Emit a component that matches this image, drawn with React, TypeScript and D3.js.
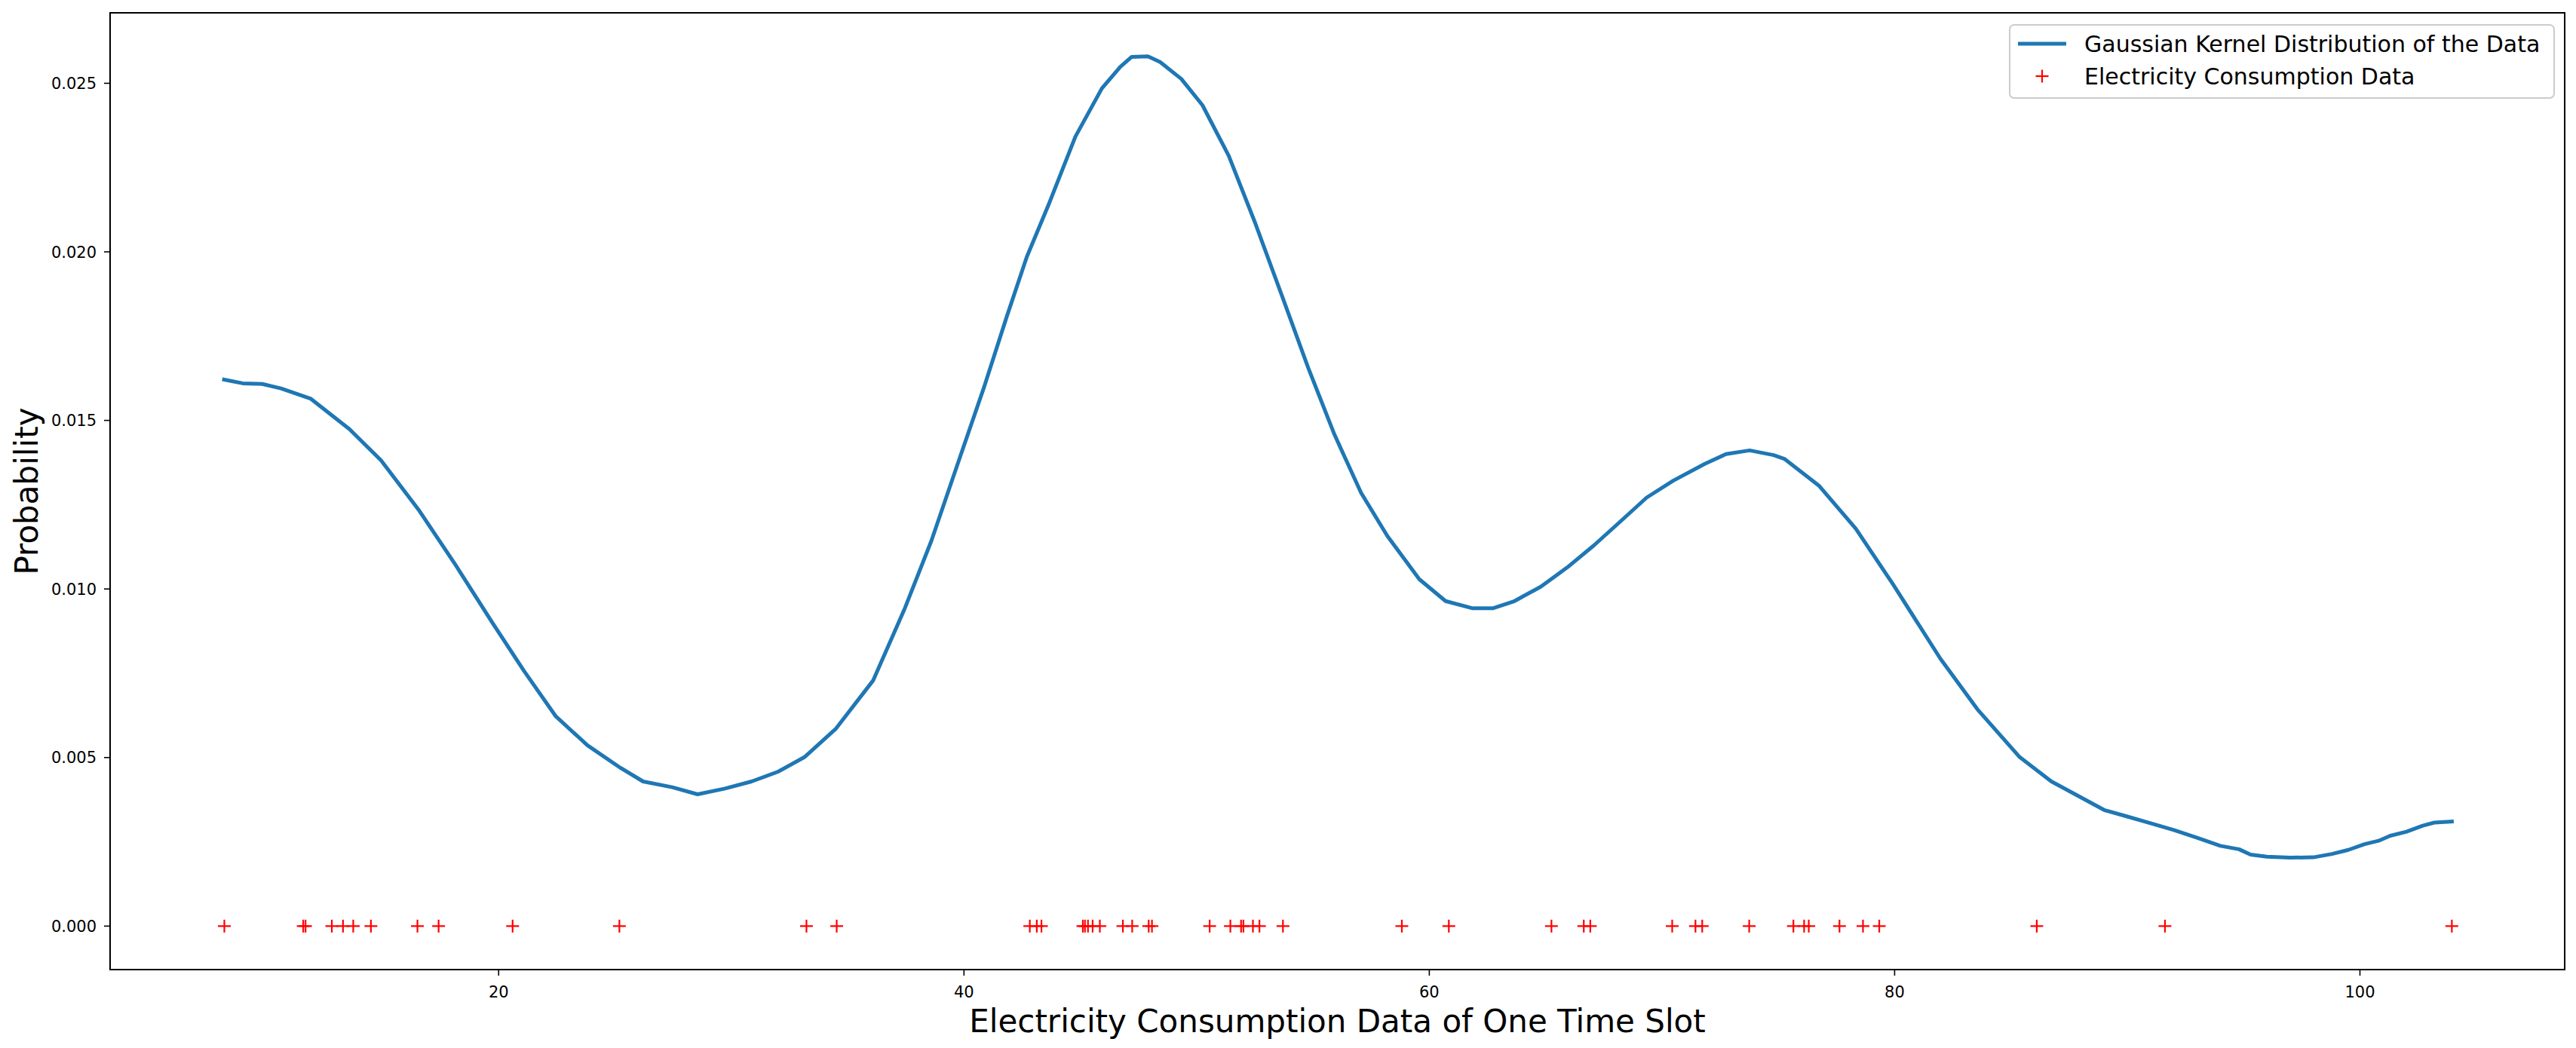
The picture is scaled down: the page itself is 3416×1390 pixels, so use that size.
import React from "react";
import * as d3 from "d3";

const kdeX = [8.2, 9.0, 9.84, 10.64, 11.93, 13.59, 14.95, 16.55, 18.14, 19.73, 21.09, 22.46, 23.82, 25.18, 26.21, 27.46, 28.55, 29.73, 30.87, 32.01, 33.14, 34.5, 36.1, 37.46, 38.6, 39.73, 40.87, 41.84, 42.7, 43.65, 44.79, 45.93, 46.72, 47.2, 47.9, 48.43, 49.34, 50.25, 51.38, 52.52, 53.66, 54.79, 55.93, 57.07, 58.2, 59.57, 60.7, 61.84, 62.75, 63.66, 64.8, 65.93, 67.07, 68.21, 69.34, 70.48, 71.84, 72.75, 73.77, 74.8, 75.26, 76.74, 78.33, 79.92, 81.97, 83.56, 85.38, 86.74, 89.02, 90, 91, 92, 93, 94, 94.8, 95.3, 96, 97, 98, 98.8, 99.5, 100.2, 100.8, 101.3, 102, 102.7, 103.2, 103.95];
const kdeY = [0.01621, 0.0161, 0.01608, 0.01595, 0.01564, 0.01474, 0.01381, 0.01236, 0.01072, 0.009, 0.00757, 0.00622, 0.00536, 0.00472, 0.00429, 0.00412, 0.00391, 0.00408, 0.00429, 0.00458, 0.00501, 0.00586, 0.00729, 0.00943, 0.01143, 0.01371, 0.016, 0.01808, 0.01985, 0.02142, 0.02342, 0.02485, 0.02549, 0.02578, 0.0258, 0.02563, 0.02513, 0.02435, 0.02285, 0.02085, 0.01871, 0.01657, 0.01457, 0.01285, 0.01157, 0.01029, 0.00964, 0.00943, 0.00943, 0.00964, 0.01007, 0.01064, 0.01129, 0.012, 0.01271, 0.01321, 0.01371, 0.014, 0.01411, 0.01397, 0.01386, 0.01307, 0.01179, 0.01015, 0.00793, 0.00643, 0.00501, 0.00429, 0.00344, 0.00325, 0.00305, 0.00285, 0.00262, 0.00238, 0.00228, 0.00212, 0.00206, 0.00203, 0.00204, 0.00214, 0.00226, 0.00243, 0.00253, 0.00268, 0.0028, 0.00298, 0.00307, 0.0031];

const dataPoints = [8.21, 11.6, 11.7, 12.83, 13.31, 13.75, 14.51, 16.51, 17.42, 20.6, 25.19, 33.23, 34.53, 42.83, 43.13, 43.33, 45.11, 45.2, 45.33, 45.53, 45.84, 46.83, 47.23, 47.94, 48.08, 50.56, 51.45, 51.91, 52.01, 52.42, 52.7, 53.71, 58.82, 60.84, 65.25, 66.64, 66.92, 70.44, 71.44, 71.73, 73.75, 75.65, 76.11, 76.31, 77.63, 78.64, 79.34, 86.11, 91.62, 103.95];

const xTicks = [20, 40, 60, 80, 100];
const yTicks = [0, 0.005, 0.01, 0.015, 0.02, 0.025];
const legendLabels = ["Gaussian Kernel Distribution of the Data", "Electricity Consumption Data"];
const xLabel = "Electricity Consumption Data of One Time Slot";
const yLabel = "Probability";

const W = 3416, H = 1390;
const L = 146, R = 3401, T = 17, B = 1286;
const FONT = "'DejaVu Sans', sans-serif";

export default function App() {
  const x = d3.scaleLinear().domain([3.3, 108.8]).range([L, R]);
  const y = d3.scaleLinear().domain([-0.00129, 0.02709]).range([B, T]);
  const pts = kdeX.map((v, i) => [v, kdeY[i]] as [number, number]);
  const line = d3.line<[number, number]>().x(d => x(d[0])).y(d => y(d[1]));
  const plus = (cx: number, cy: number, key: any) => (
    <g key={key} stroke="red" strokeWidth={2.2}>
      <line x1={cx - 8.5} x2={cx + 8.5} y1={cy} y2={cy} />
      <line x1={cx} x2={cx} y1={cy - 8.5} y2={cy + 8.5} />
    </g>
  );
  return (
    <svg width={W} height={H} style={{ position: "absolute", left: 0, top: 0, display: "block", background: "white" }} fontFamily={FONT}>
      <rect x={0} y={0} width={W} height={H} fill="white" />
      <path d={line(pts) || ""} fill="none" stroke="#1f77b4" strokeWidth={5} strokeLinejoin="round" strokeLinecap="square" />
      {dataPoints.map((v, i) => plus(x(v), y(0), i))}
      <rect x={L} y={T} width={R - L} height={B - T} fill="none" stroke="black" strokeWidth={2} />
      {yTicks.map(t => (
        <g key={"y" + t}>
          <line x1={L - 8} x2={L} y1={y(t)} y2={y(t)} stroke="black" strokeWidth={1.6} />
          <text x={L - 18} y={y(t)} dy="0.36em" textAnchor="end" fontSize={21} fill="black">{t.toFixed(3)}</text>
        </g>
      ))}
      {xTicks.map(t => (
        <g key={"x" + t}>
          <line x1={x(t)} x2={x(t)} y1={B} y2={B + 8} stroke="black" strokeWidth={1.6} />
          <text x={x(t)} y={B + 37} textAnchor="middle" fontSize={21} fill="black">{t}</text>
        </g>
      ))}
      <text x={(L + R) / 2} y={1369} textAnchor="middle" fontSize={42} fill="black">{xLabel}</text>
      <text transform={`translate(50, ${(T + B) / 2}) rotate(-90)`} textAnchor="middle" fontSize={42} fill="black">{yLabel}</text>
      <g>
        <rect x={2665} y={33} width={722} height={97} rx={6} fill="white" fillOpacity={0.8} stroke="#cccccc" strokeWidth={2} />
        <line x1={2676} x2={2740} y1={58} y2={58} stroke="#1f77b4" strokeWidth={5} />
        <text x={2764} y={69} fontSize={30} fill="black">{legendLabels[0]}</text>
        {plus(2708, 101, "lg")}
        <text x={2764} y={112} fontSize={30} fill="black">{legendLabels[1]}</text>
      </g>
    </svg>
  );
}
